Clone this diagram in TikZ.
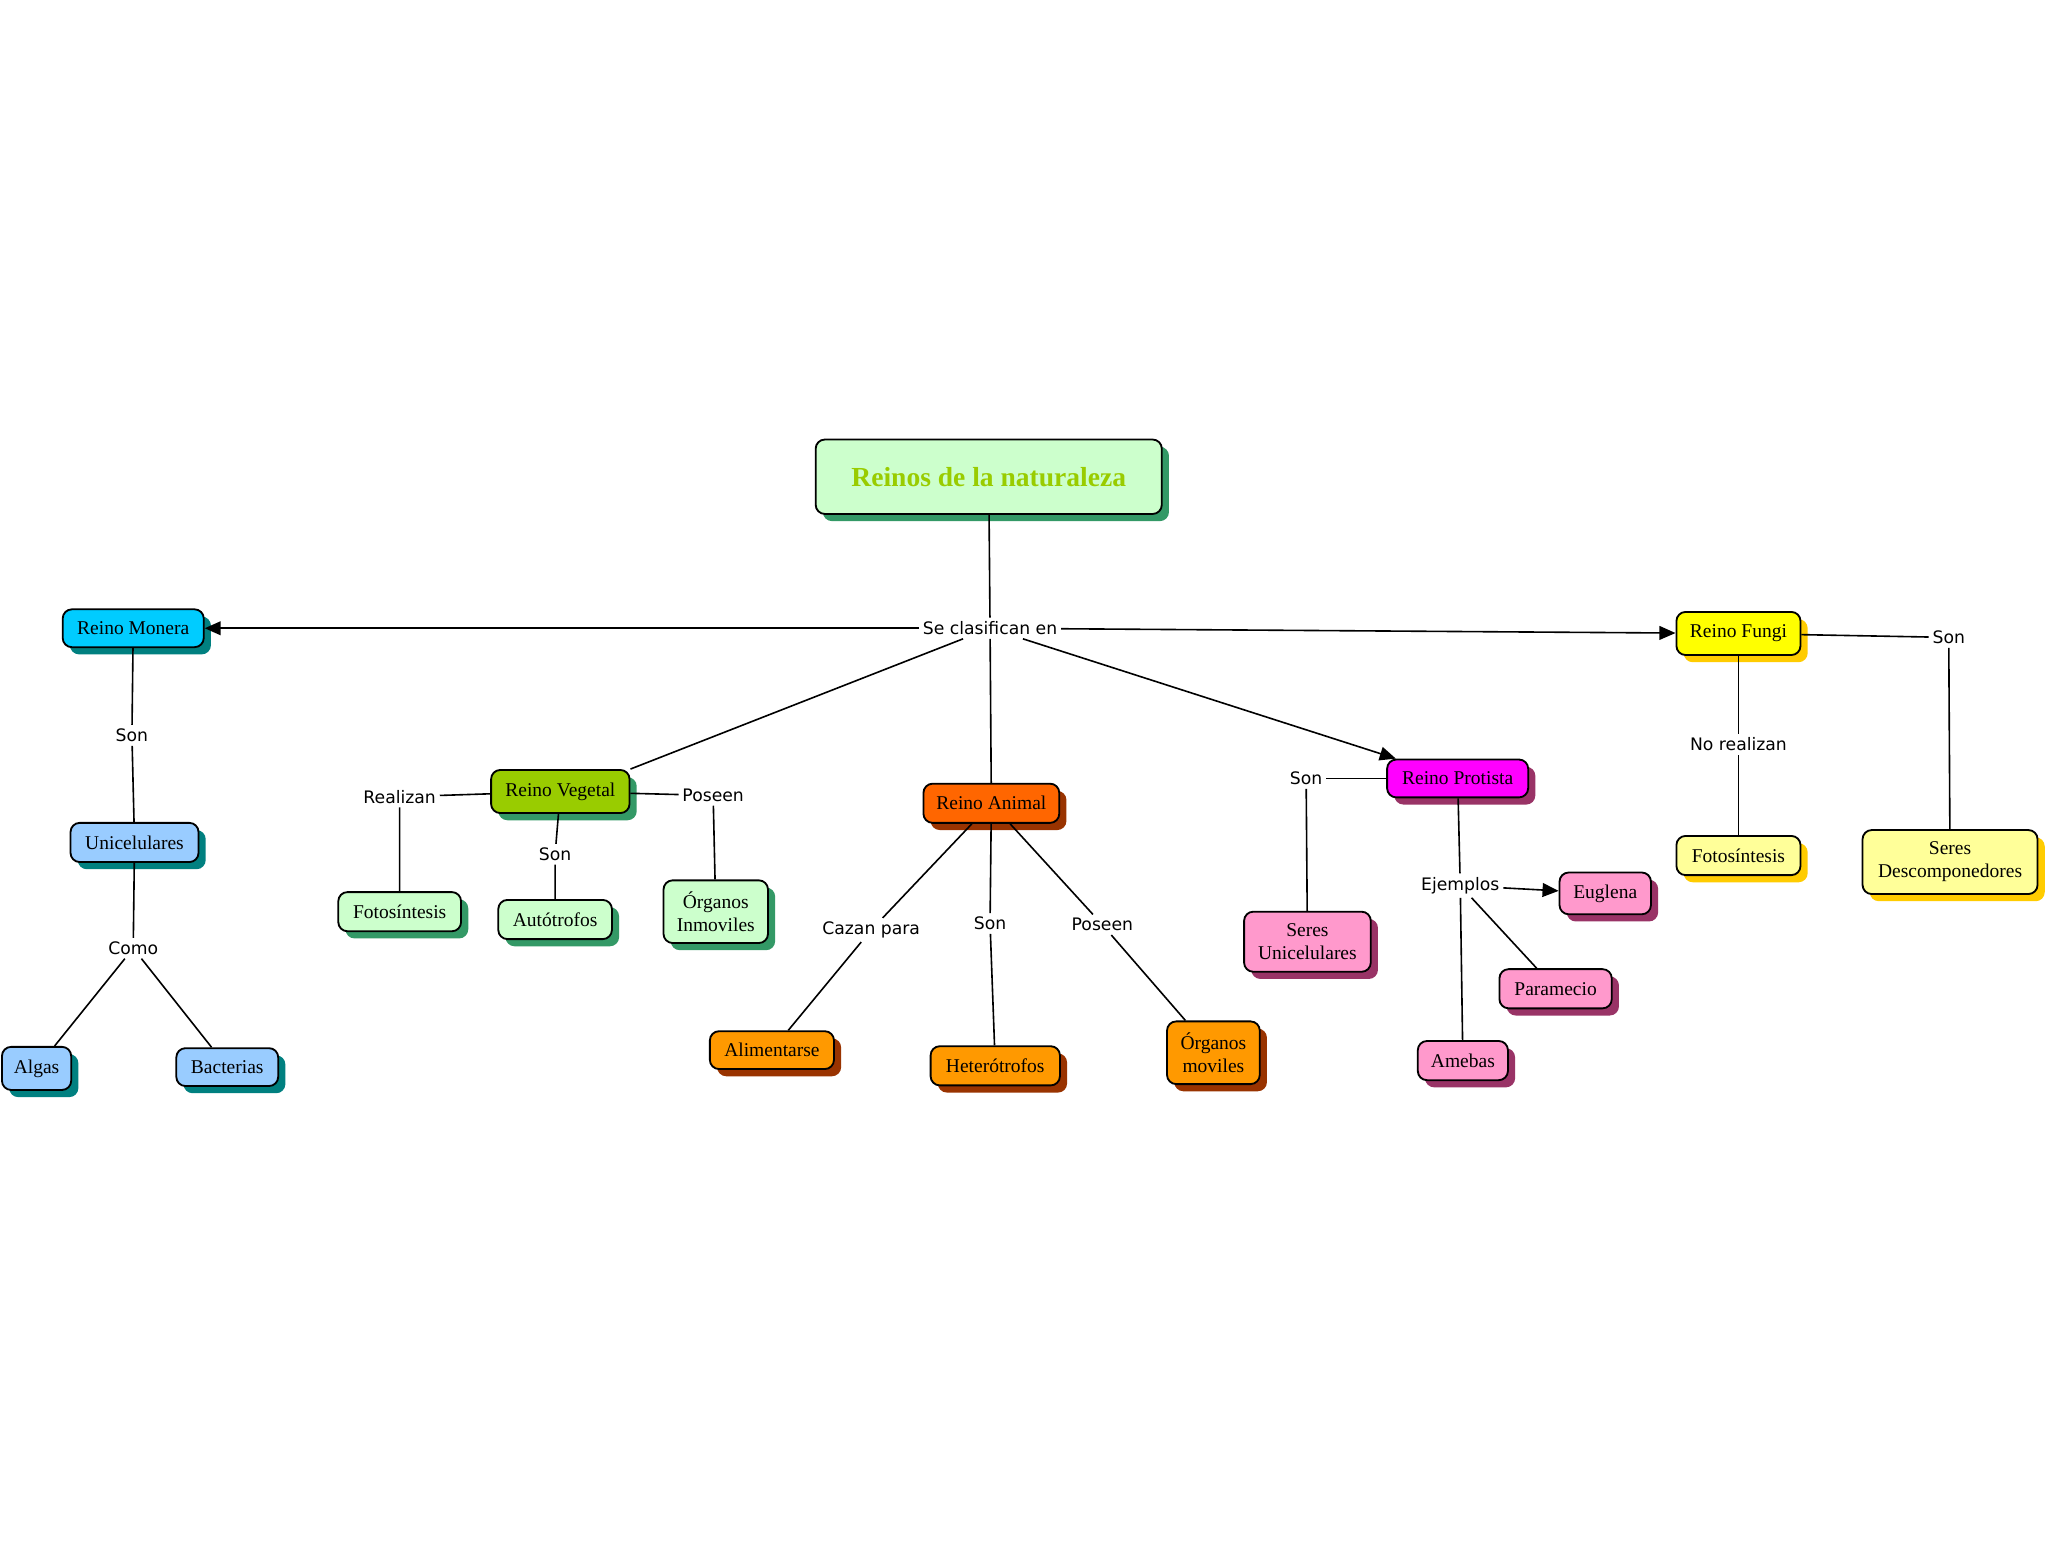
\documentclass[tikz,border=0pt]{standalone}
\usepackage{fontspec}
\setmainfont{Liberation Serif}
\newfontfamily\lblfont{DejaVu Sans}
\usetikzlibrary{shadows,arrows.meta}
\definecolor{tealsh}{HTML}{008080}
\definecolor{greensh}{HTML}{339966}
\definecolor{brownsh}{HTML}{993300}
\definecolor{plumsh}{HTML}{993366}
\definecolor{goldsh}{HTML}{FFCC00}
\definecolor{cmon}{HTML}{00CCFF}
\definecolor{cblue}{HTML}{99CCFF}
\definecolor{cveg}{HTML}{99CC00}
\definecolor{clgreen}{HTML}{CCFFCC}
\definecolor{cani}{HTML}{FF6600}
\definecolor{corange}{HTML}{FF9900}
\definecolor{cpro}{HTML}{FF00FF}
\definecolor{cpink}{HTML}{FF99CC}
\definecolor{cfun}{HTML}{FFFF00}
\definecolor{clyel}{HTML}{FFFF99}
\definecolor{ctitle}{HTML}{99CC00}
\begin{document}
\begin{tikzpicture}[x=0.02cm,y=-0.02cm,
  box/.style 2 args={draw=black, line width=0.8pt, rounded corners=4pt, fill=#1,
     drop shadow={shadow xshift=0.11cm, shadow yshift=-0.11cm, fill=#2, opacity=1},
     inner sep=1pt, align=center, font=\fontsize{8.5}{10}\selectfont},
  sz/.style 2 args={minimum width=#1*0.02cm, minimum height=#2*0.02cm},
  lbl/.style={fill=white, inner sep=1.5pt, font=\lblfont\fontsize{7.5}{9}\selectfont},
  ln/.style={line width=0.7pt},
  arr/.style={line width=0.7pt, -{Triangle[length=7pt,width=6pt]}}]
\useasboundingbox (0,0) rectangle (1568,1180);
\fill[white] (0,0) rectangle (1568,1180);
% nodes
\node[box={clgreen}{greensh}, sz={265}{57}, font=\bfseries\fontsize{12}{14}\selectfont, text=ctitle] (t) at (757,365) {Reinos de la naturaleza};
\node[lbl] (sc) at (758,481) {Se clasifican en};
\node[box={cmon}{tealsh}, sz={108}{29}] (mon) at (102,481) {Reino Monera};
\node[box={cblue}{tealsh}, sz={98}{30}] (uni) at (103,645) {Unicelulares};
\node[box={cblue}{tealsh}, sz={53}{33}] (alg) at (28,818) {Algas};
\node[box={cblue}{tealsh}, sz={78}{29}] (bac) at (174,817) {Bacterias};
\node[box={cveg}{greensh}, sz={106}{33}] (veg) at (429,606) {Reino Vegetal};
\node[box={clgreen}{greensh}, sz={94}{30}] (fv) at (306,698) {Fotosíntesis};
\node[box={clgreen}{greensh}, sz={87}{30}] (aut) at (425,704) {Autótrofos};
\node[box={clgreen}{greensh}, sz={80}{48}] (oi) at (548,698) {Órganos\\Inmoviles};
\node[box={cani}{brownsh}, sz={104}{30}] (ani) at (759,615) {Reino Animal};
\node[box={corange}{brownsh}, sz={95}{29}] (ali) at (591,804) {Alimentarse};
\node[box={corange}{brownsh}, sz={99}{30}] (het) at (762,816) {Heterótrofos};
\node[box={corange}{brownsh}, sz={71}{48}] (om) at (929,806) {Órganos\\moviles};
\node[box={cpro}{plumsh}, sz={108}{29}] (pro) at (1116,596) {Reino Protista};
\node[box={cpink}{plumsh}, sz={97}{46}] (su) at (1001,721) {Seres\\Unicelulares};
\node[box={cpink}{plumsh}, sz={70}{32}] (eug) at (1229,684) {Euglena};
\node[box={cpink}{plumsh}, sz={86}{30}] (par) at (1191,757) {Paramecio};
\node[box={cpink}{plumsh}, sz={69}{30}] (ame) at (1120,812) {Amebas};
\node[box={cfun}{goldsh}, sz={95}{33}] (fun) at (1331,485) {Reino Fungi};
\node[box={clyel}{goldsh}, sz={95}{30}] (ff) at (1331,655) {Fotosíntesis};
\node[box={clyel}{goldsh}, sz={134}{49}] (sd) at (1493,660) {Seres\\Descomponedores};
% labels
\node[lbl] (l1) at (101,563) {Son};
\node[lbl] (l2) at (102,726) {Como};
\node[lbl] (l3) at (306,610) {Realizan};
\node[lbl] (l4) at (425,654) {Son};
\node[lbl] (l5) at (546,609) {Poseen};
\node[lbl] (l6) at (667,712) {Cazan para};
\node[lbl] (l7) at (758,707) {Son};
\node[lbl] (l8) at (844,708) {Poseen};
\node[lbl] (l9) at (1000,596) {Son};
\node[lbl] (l10) at (1118,678) {Ejemplos};
\node[lbl] (l11) at (1331,570) {No realizan};
\node[lbl] (l12) at (1492,488) {Son};
% edges
\draw[ln] (t) -- (sc);
\draw[arr] (sc) -- (mon);
\draw[arr] (sc) -- (fun);
\draw[arr] (sc) -- (pro);
\draw[ln] (sc) -- (veg.north east);
\draw[ln] (sc) -- (ani);
\draw[ln] (mon) -- (l1) -- (uni) -- (l2);
\draw[ln] (l2) -- (alg); \draw[ln] (l2) -- (bac);
\draw[ln] (veg) -- (l3) -- (fv);
\draw[ln] (veg) -- (l4) -- (aut);
\draw[ln] (veg) -- (l5) -- (oi);
\draw[ln] (ani) -- (l6) -- (ali);
\draw[ln] (ani) -- (l7) -- (het);
\draw[ln] (ani) -- (l8) -- (om);
\draw[ln] (pro) -- (l9.east); \draw[ln] (l9) -- (su);
\draw[ln] (pro) -- (l10);
\draw[arr] (l10) -- (eug);
\draw[ln] (l10) -- (par);
\draw[ln] (l10) -- (ame);
\draw[ln] (fun) -- (l11) -- (ff);
\draw[ln] (fun) -- (l12) -- (sd);
\end{tikzpicture}
\end{document}
